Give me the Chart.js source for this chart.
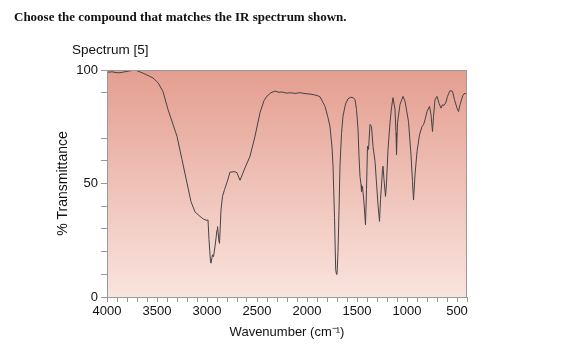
<!DOCTYPE html>
<html>
<head>
<meta charset="utf-8">
<script src="https://cdn.jsdelivr.net/npm/chart.js@4"></script>
<style>
  body { margin: 0; background: #fff; }
  #wrap { position: relative; width: 561px; height: 347px; }
  #question { position: absolute; left: 14px; top: 9px; font: bold 13px "Liberation Serif", "Times New Roman", serif; color: #111; }
  #spec { position: absolute; left: 72px; top: 42px; font: 13.5px "Liberation Sans", Arial, sans-serif; color: #111; }
  canvas { position: absolute; left: 0; top: 0; }
</style>
</head>
<body>
<div id="wrap">
  <canvas id="myChart" width="561" height="347"></canvas>
  <div id="question">Choose the compound that matches the IR spectrum shown.</div>
  <div id="spec">Spectrum [5]</div>
</div>
<script>
// spectrum
var wavenumbers = [4000,3950,3900,3870,3800,3720,3660,3600,3540,3490,3440,3390,3340,3300,3250,3200,3160,3120,3070,3035,
  3000,2990,2980,2965,2960,2945,2935,2920,2900,2895,2880,2875,2860,2845,2825,2800,2770,2720,2700,2670,
  2620,2570,2520,2470,2430,2400,2360,2320,2280,2250,2200,2170,2120,2070,2020,1970,1900,1870,1820,1790,
  1770,1750,1740,1725,1713,1705,1700,1690,1680,1670,1655,1640,1615,1590,1565,1540,1520,1505,1490,1480,
  1470,1460,1455,1445,1430,1415,1405,1395,1385,1380,1370,1355,1340,1320,1305,1290,1275,1265,1245,1240,
  1230,1215,1205,1190,1170,1155,1140,1120,1110,1105,1095,1070,1040,1020,985,960,945,935,920,900,
  875,850,835,820,800,775,760,745,735,720,700,680,660,645,630,610,595,570,545,525,
  500,485,470,440,420,400];
var transmittance = [99.0,99.2,98.8,98.8,99.4,100,99,97.8,96.5,94.4,90.5,82.6,76,70.8,60.5,50.2,42,37.5,35.5,34.3,
  33.7,34,25.2,15.6,14.9,18.6,17.8,22.2,29.6,31,24.4,23.7,38.4,44.3,47.3,50.5,55,55.2,54.7,51.4,
  56.9,62,70.8,81.2,86.5,88.5,90,90.7,90.2,90.3,89.8,90,89.7,90,89.6,89.4,88.8,88.2,84,79,
  75,66,58,35,12,10,10,20,38,58,72,79.7,85,87.3,88,87.8,87,82.6,74,62,
  53,49.5,46.5,48.7,41.4,31.8,47.3,66.4,65,68.6,76,75.2,66.4,59.8,50.2,40.6,33.3,42.8,56.1,57.6,
  51.7,44.3,50.2,65,76.8,83.4,87.8,82.6,72.3,62.7,76.8,84.8,88.4,86.2,77.3,62.6,50.8,42.7,53.8,64,
  71.4,75.1,75.9,78,81.7,84,80.3,72.9,79.5,86.9,88.4,85.4,83.2,84.7,84.4,85.9,88.4,90.9,90.6,86.9,
  83.2,81.7,84.7,89.1,89.8,88.8];
var xLabels = [4000,3500,3000,2500,2000,1500,1000,500];
var yLabels = [0,50,100];

var points = wavenumbers.map(function (w, i) { return { x: w, y: transmittance[i] }; });

// salmon gradient behind the plot and a grey frame round it
var plotBox = {
  id: 'plotBox',
  beforeDatasetsDraw: function (chart) {
    var a = chart.chartArea, c = chart.ctx;
    var g = c.createLinearGradient(0, a.top, 0, a.bottom);
    g.addColorStop(0, '#e49e90');
    g.addColorStop(1, '#f9e4de');
    c.save();
    c.fillStyle = g;
    c.fillRect(a.left, a.top, a.right - a.left, a.bottom - a.top);
    c.restore();
  },
  afterDatasetsDraw: function (chart) {
    var a = chart.chartArea, c = chart.ctx;
    c.save();
    c.strokeStyle = '#999';
    c.lineWidth = 1;
    c.strokeRect(a.left + 0.5, a.top + 0.5, a.right - a.left - 1, a.bottom - a.top);
    c.restore();
  }
};

var font = { family: '"Liberation Sans", Arial, sans-serif', size: 13 };

var ctx = document.getElementById('myChart').getContext('2d');
var myChart = new Chart(ctx, {
  type: 'scatter',
  data: {
    datasets: [{
      label: 'Spectrum [5]',
      data: points,
      showLine: true,
      borderColor: '#444',
      borderWidth: 1,
      pointRadius: 0,
      tension: 0
    }]
  },
  plugins: [plotBox],
  options: {
    responsive: false,
    animation: false,
    layout: { padding: { left: 55, right: 94, top: 70, bottom: 0 } },
    plugins: { legend: { display: false }, tooltip: { enabled: false } },
    scales: {
      x: {
        type: 'linear',
        reverse: true,
        min: 400,
        max: 4000,
        afterFit: function (s) { s.height = 50; },
        border: { color: '#999' },
        grid: { drawOnChartArea: false, tickLength: 5, color: '#999' },
        ticks: {
          stepSize: 100, autoSkip: false, maxRotation: 0, padding: 2,
          color: '#111', font: font,
          callback: function (v) { return xLabels.indexOf(v) >= 0 ? String(v) : ''; }
        },
        title: { display: true, text: 'Wavenumber (cm\u207B\u00B9)', color: '#111', font: font, padding: { top: 0, bottom: 7 } }
      },
      y: {
        min: 0,
        max: 100,
        afterFit: function (s) { s.width = 52; },
        border: { color: '#999' },
        grid: {
          drawOnChartArea: false, tickLength: 6,
          tickColor: function (c) { return c.tick && c.tick.value === 80 ? 'rgba(0,0,0,0)' : '#999'; }
        },
        ticks: {
          stepSize: 10, padding: 3, color: '#111', font: font,
          callback: function (v) { return yLabels.indexOf(v) >= 0 ? String(v) : ''; }
        },
        title: { display: true, text: '% Transmittance', color: '#111', font: { family: font.family, size: 14 }, padding: 0 }
      }
    }
  }
});
</script>
</body>
</html>
